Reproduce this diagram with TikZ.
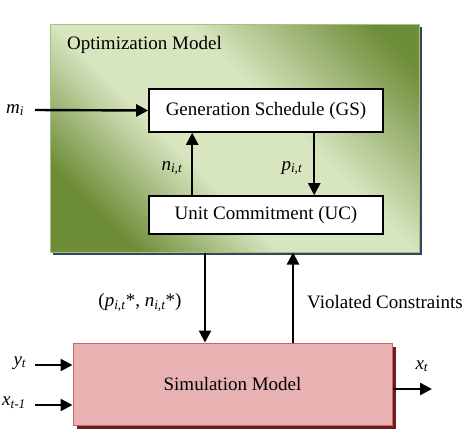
\documentclass[tikz,border=0pt]{standalone}
\usepackage{fontspec}
\setmainfont{Liberation Serif}
\usetikzlibrary{arrows.meta}

\definecolor{optlight}{HTML}{D8E6C0}
\definecolor{optdark}{HTML}{6E8D38}
\definecolor{optedge}{HTML}{A8C080}
\definecolor{optshadow}{HTML}{34445A}
\definecolor{simfill}{HTML}{E8B2B2}
\definecolor{simline}{HTML}{C26666}
\definecolor{simshadow}{HTML}{6E1C1C}

\pgfdeclarehorizontalshading{optshade}{100bp}{color(0bp)=(optdark); color(25bp)=(optdark); color(42bp)=(optlight); color(58bp)=(optlight); color(80bp)=(optdark); color(100bp)=(optdark)}

\newcommand{\var}[2]{\textit{#1}\textsubscript{\textit{#2}}}

\tikzset{
  box/.style={draw=black,line width=1.6pt,fill=white,rectangle,inner sep=0pt},
  flow/.style={line width=2.4pt,-{Triangle[length=12pt,width=12pt]}},
  lbl/.style={inner sep=0pt}
}

\begin{document}
\begin{tikzpicture}[x=1pt,y=-1pt,font=\fontsize{19}{23}\selectfont]
            \useasboundingbox (0,0) rectangle (474,429);

            % optimization model
            \node (optsh) at (237.5,141) [rectangle,fill=optshadow,minimum width=369pt,minimum height=228pt] {};
            \node (opt) at (234.5,138) [rectangle,draw=optedge,line width=1pt,shading=optshade,shading angle=45,minimum width=369pt,minimum height=228pt] {};
            \node (title) at (67,45) [lbl,anchor=west] {Optimization Model};

            \node (gs) at (266,110.5) [box,minimum width=234pt,minimum height=43pt] {Generation Schedule (GS)};
            \node (uc) at (266,215) [box,minimum width=234pt,minimum height=38pt] {Unit Commitment (UC)};

            % simulation model
            \node (simsh) at (236.5,388) [rectangle,fill=simshadow,minimum width=319pt,minimum height=82pt] {};
            \node (sim) at (232.5,384) [rectangle,fill=simfill,draw=simline,line width=1pt,minimum width=319pt,minimum height=82pt] {Simulation Model};

            % inputs and outputs
            \node (m) at (15,110) [lbl] {\var{m}{i}};
            \node (y) at (20,363) [lbl] {\var{y}{t}};
            \node (xp) at (14,403) [lbl] {\var{x}{t-1}};
            \node (xt) at (422,366) [lbl] {\var{x}{t}};
            \coordinate (out) at (432,389);

            \node (n) at (172,168) [lbl] {\var{n}{i,t}};
            \node (p) at (292,168) [lbl] {\var{p}{i,t}};
            \node (star) at (140,302) [lbl] {(\var{p}{i,t}*, \var{n}{i,t}*)};
            \node (viol) at (385,302) [lbl] {Violated Constraints};

            \draw[flow] (35,110) -- (gs.west);
            \draw[flow] ([xshift=44pt]uc.north west) -- ([xshift=44pt]gs.south west);
            \draw[flow] ([xshift=166pt]gs.south west) -- ([xshift=166pt]uc.north west);
            \draw[flow] ([xshift=-27.5pt]sim.north |- opt.south) -- ([xshift=-27.5pt]sim.north);
            \draw[flow] ([xshift=60.5pt]sim.north) -- ([xshift=60.5pt]sim.north |- opt.south);
            \draw[flow] (35,365) -- (sim.west |- 0,365);
            \draw[flow] (35,405) -- (sim.west |- 0,405);
            \draw[flow] (sim.east |- out) -- (out);

        \end{tikzpicture}
\end{document}
